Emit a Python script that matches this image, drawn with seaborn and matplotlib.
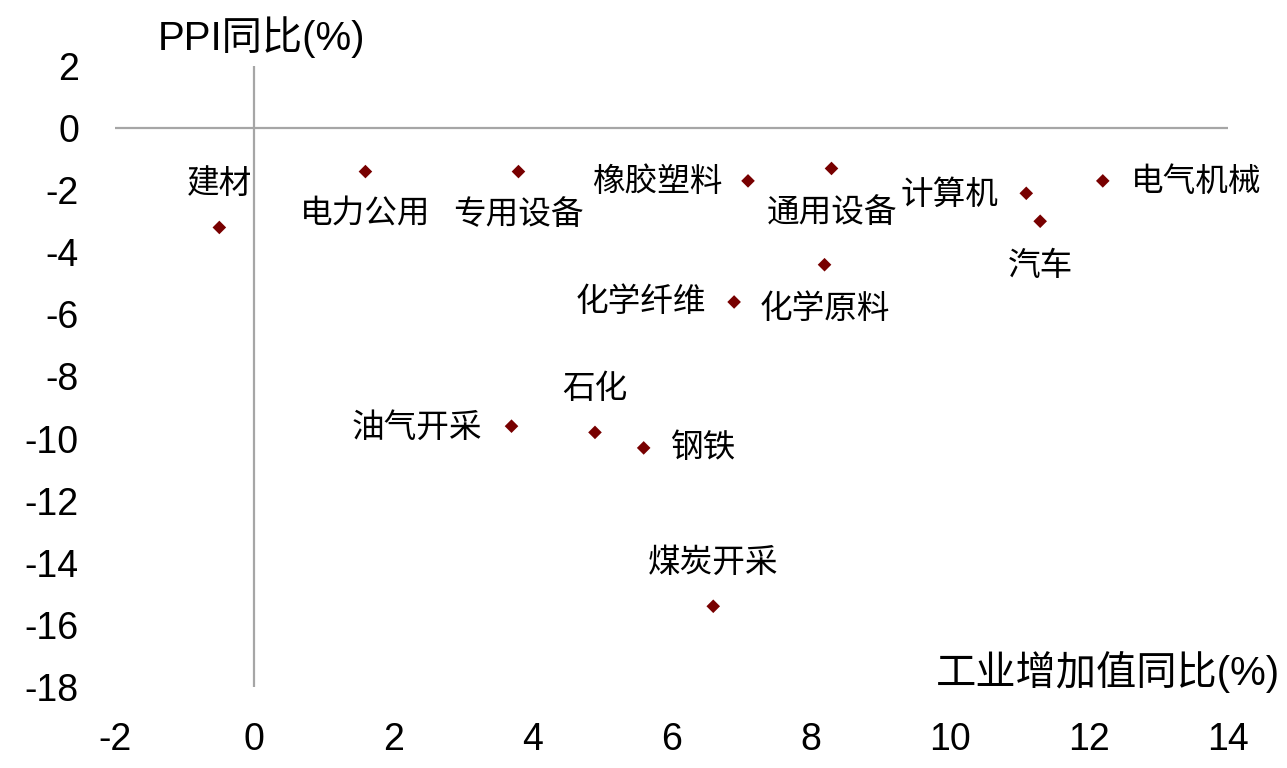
import numpy as np
import pandas as pd
import matplotlib
matplotlib.use("Agg")
import matplotlib.pyplot as plt
import seaborn as sb

# Data
industries = ['建材', '电力公用', '专用设备', '橡胶塑料', '通用设备', '计算机', '汽车',
              '电气机械', '化学原料', '化学纤维', '油气开采', '石化', '钢铁', '煤炭开采']
value_added_yoy = [-0.5, 1.6, 3.8, 7.1, 8.3, 11.1, 11.3,
                   12.2, 8.2, 6.9, 3.7, 4.9, 5.6, 6.6]
ppi_yoy = [-3.2, -1.4, -1.4, -1.7, -1.3, -2.1, -3.0,
           -1.7, -4.4, -5.6, -9.6, -9.8, -10.3, -15.4]
x_ticks = [-2, 0, 2, 4, 6, 8, 10, 12, 14]
y_ticks = [2, 0, -2, -4, -6, -8, -10, -12, -14, -16, -18]

# Label placement (offset in points, horizontal alignment)
label_pos = {
    '建材': ((0, 31), 'center'),
    '电力公用': ((0, -31), 'center'),
    '专用设备': ((0, -31), 'center'),
    '橡胶塑料': ((-18, -1), 'right'),
    '通用设备': ((0, -32), 'center'),
    '计算机': ((-20, -1), 'right'),
    '汽车': ((0, -32), 'center'),
    '电气机械': ((20, -1), 'left'),
    '化学原料': ((0, -32), 'center'),
    '化学纤维': ((-20, 0), 'right'),
    '油气开采': ((-21, -1), 'right'),
    '石化': ((0, 31), 'center'),
    '钢铁': ((20, 0), 'left'),
    '煤炭开采': ((0, 31), 'center'),
}

df = pd.DataFrame({'industry': industries, 'va': value_added_yoy, 'ppi': ppi_yoy})

sb.set_style("white")
plt.rcParams['font.family'] = ['Liberation Sans', 'Noto Sans CJK SC']
plt.rcParams['axes.unicode_minus'] = False

dark_red = '#780000'
grey = '#A6A6A6'

fig = plt.figure(figsize=(12.87, 7.68), dpi=100)
ax = fig.add_axes([115 / 1287, 1 - 687 / 768, 1113 / 1287, 621 / 768])

sb.scatterplot(data=df, x='va', y='ppi', marker='D', s=48, color=dark_red,
               edgecolor='none', ax=ax, zorder=3)

# axes cross at zero
ax.axhline(0, color=grey, lw=1.6, zorder=1)
ax.axvline(0, color=grey, lw=1.6, zorder=1)

for name, xv, yv in zip(industries, value_added_yoy, ppi_yoy):
    (dx, dy), ha = label_pos[name]
    ax.annotate(name, (xv, yv), xytext=(dx, dy), textcoords='offset points',
                ha=ha, va='center', fontsize=23.5, color='black',
                family=['Noto Sans CJK SC', 'DejaVu Sans'])

ax.set_xlim(-2, 14)
ax.set_ylim(-18, 2)
ax.set_xticks(x_ticks)
ax.set_yticks(y_ticks)
ax.set_xticklabels([str(t) for t in x_ticks], fontsize=27, color='black')
ax.set_yticklabels([str(t) for t in y_ticks], fontsize=27, color='black')
ax.tick_params(axis='x', length=0, pad=25)
ax.tick_params(axis='y', length=0, pad=26)
for s in ax.spines.values():
    s.set_visible(False)
ax.set_xlabel('')
ax.set_ylabel('')
ax.grid(False)

fig.text(158 / 1287, 1 - 37 / 768, 'PPI同比(%)', ha='left', va='center',
         fontsize=29, color='black')
fig.text(1280 / 1287, 1 - 672 / 768, '工业增加值同比(%)', ha='right', va='center',
         fontsize=29, color='black')

fig.savefig('out.png', dpi=100)
